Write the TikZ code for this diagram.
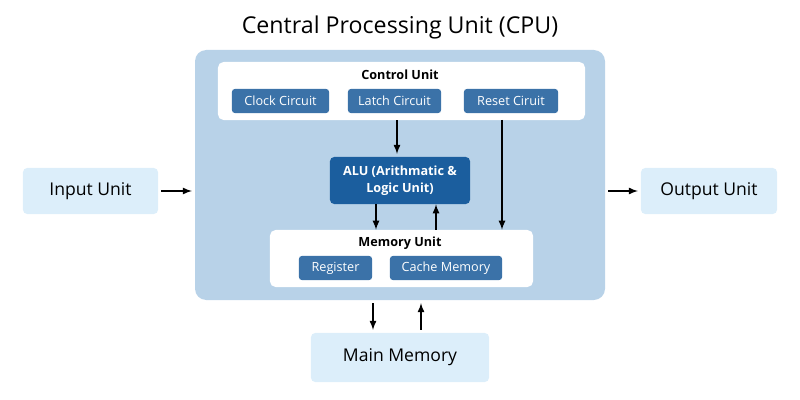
\documentclass[tikz,border=0pt]{standalone}
\usepackage{fontspec}
\setmainfont{Open Sans}
\definecolor{cpublue}{HTML}{B8D2E8}
\definecolor{pale}{HTML}{DCEEFA}
\definecolor{btn}{HTML}{3B72A8}
\definecolor{alublue}{HTML}{1B5E9E}
\tikzset{
    unit/.style={fill=pale, rounded corners=3pt, font=\fontsize{12.5}{15}\selectfont},
    part/.style={fill=white, rounded corners=4pt},
    btn/.style={fill=btn, rounded corners=2pt, text=white, font=\fontsize{9}{11}\selectfont},
    arr/.style={-latex, line width=1.2pt}
}
\begin{document}
\begin{tikzpicture}[x=0.025cm, y=-0.025cm]
    \useasboundingbox (0,0) rectangle (800,400);
    \node at (400,27) {\fontsize{16.5}{20}\selectfont Central Processing Unit (CPU)};

    \fill[cpublue, rounded corners=8pt] (195,50) rectangle (605,300);
    \node (cpu) at (400,175) [minimum width=10.25cm, minimum height=6.25cm] {};

    \node (ctrl) [part, minimum width=9.175cm, minimum height=1.45cm] at (401.5,91) {};
    \node at (400,75) {\fontsize{9}{11}\selectfont\bfseries Control Unit};
    \node (clock) [btn, minimum width=2.425cm, minimum height=0.6cm] at (280.5,101) {Clock Circuit};
    \node (latch) [btn, minimum width=2.325cm, minimum height=0.6cm] at (394.5,101) {Latch Circuit};
    \node (reset) [btn, minimum width=2.35cm, minimum height=0.6cm] at (511,101) {Reset Ciruit};
    \coordinate (rs) at (502,120);

    \node (alu) [fill=alublue, rounded corners=3pt, text=white, align=center,
        minimum width=3.5cm, minimum height=1.175cm,
        font=\fontsize{9}{12}\selectfont\bfseries] at (400,180.5) {ALU (Arithmatic \&\\Logic Unit)};

    \node (mem) [part, minimum width=6.575cm, minimum height=1.425cm] at (401.5,258.5) {};
    \node at (400,243) {\fontsize{9}{11}\selectfont\bfseries Memory Unit};
    \node (reg) [btn, minimum width=1.825cm, minimum height=0.6cm] at (335.5,268) {Register};
    \node (cache) [btn, minimum width=2.8cm, minimum height=0.6cm] at (446,268) {Cache Memory};

    \node (input) [unit, minimum width=3.375cm, minimum height=1.15cm] at (90.5,191) {Input Unit};
    \node (output) [unit, minimum width=3.4cm, minimum height=1.15cm] at (709,191) {Output Unit};
    \node (main) [unit, minimum width=4.45cm, minimum height=1.225cm] at (400,357.5) {Main Memory};

    \draw[arr] ([xshift=2pt]input.east) -- ([xshift=-2pt]input.east -| cpu.west);
    \draw[arr] ([xshift=2pt]output.west -| cpu.east) -- ([xshift=-2pt]output.west);
    \draw[arr] ([xshift=-0.075cm]alu.north |- ctrl.south) -- ([xshift=-0.075cm,yshift=2pt]alu.north);
    \draw[arr] ([xshift=-0.6cm]alu.south) -- ([xshift=-0.6cm]alu.south |- mem.north);
    \draw[arr] ([xshift=0.9cm]alu.south |- mem.north) -- ([xshift=0.9cm]alu.south);
    \draw[arr] (rs) -- (rs |- mem.north);
    \draw[arr] ([xshift=-0.675cm,yshift=-2pt]cpu.south) -- ([xshift=-0.675cm,yshift=2pt]main.north);
    \draw[arr] ([xshift=0.525cm,yshift=2pt]main.north) -- ([xshift=0.525cm,yshift=-2pt]cpu.south);
\end{tikzpicture}
\end{document}
